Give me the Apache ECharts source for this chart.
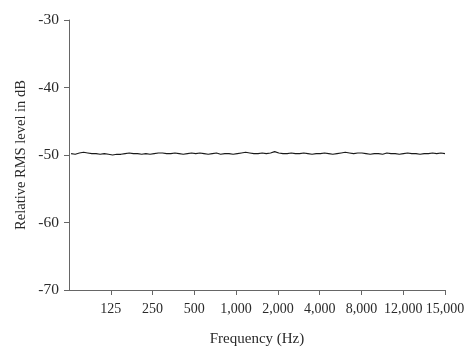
<!DOCTYPE html>
<html><head><meta charset="utf-8">
<script src="https://cdn.jsdelivr.net/npm/echarts@6/dist/echarts.min.js"></script>
<style>html,body{margin:0;padding:0;background:#fff}#c{width:474px;height:357px}</style>
</head><body><div id="c"></div>
<script>
const tickLabels = ['125','250','500','1,000','2,000','4,000','8,000','12,000','15,000'];
const yTicks = [-70,-60,-50,-40,-30];
const levels = [
-49.8,-49.9,-49.7,-49.6,-49.7,-49.8,-49.8,-49.9,-49.8,-49.9,
-50.0,-49.9,-49.9,-49.8,-49.7,-49.8,-49.8,-49.9,-49.8,-49.9,
-49.8,-49.7,-49.7,-49.8,-49.8,-49.7,-49.8,-49.9,-49.8,-49.7,
-49.8,-49.7,-49.8,-49.9,-49.8,-49.7,-49.9,-49.8,-49.8,-49.9,
-49.8,-49.7,-49.6,-49.7,-49.8,-49.8,-49.7,-49.8,-49.7,-49.5,
-49.7,-49.8,-49.8,-49.7,-49.8,-49.8,-49.7,-49.8,-49.9,-49.8,
-49.8,-49.7,-49.8,-49.9,-49.8,-49.7,-49.6,-49.7,-49.8,-49.7,
-49.7,-49.8,-49.9,-49.8,-49.8,-49.9,-49.7,-49.8,-49.8,-49.9,
-49.8,-49.7,-49.8,-49.8,-49.9,-49.8,-49.8,-49.7,-49.8,-49.7,-49.8
];
const xStart = 0.05, xEnd = 9.0;
const data = levels.map((v,i)=>[xStart + i*(xEnd-xStart)/(levels.length-1), v]);
const font = 'Liberation Serif';
const chart = echarts.init(document.getElementById('c'));
chart.setOption({
  animation:false,
  grid:{left:69,right:29,top:20,bottom:67,containLabel:false},
  xAxis:{
    type:'value',min:0,max:9,interval:1,
    name:'Frequency (Hz)',nameLocation:'middle',nameGap:42,
    nameTextStyle:{fontFamily:font,fontSize:15,color:'#2a2a2a'},
    axisLine:{lineStyle:{color:'#666',width:1}},
    axisTick:{show:true,length:5,lineStyle:{color:'#666'},customValues:[1,2,3,4,5,6,7,8,9]},
    axisLabel:{fontFamily:font,fontSize:14,color:'#2a2a2a',margin:12,
      customValues:[1,2,3,4,5,6,7,8,9],
      formatter:v=>tickLabels[Math.round(v)-1]||''},
    splitLine:{show:false}
  },
  yAxis:{
    type:'value',min:-70,max:-30,interval:10,
    name:'Relative RMS level in dB',nameLocation:'middle',nameGap:40,nameMoveOverlap:false,
    nameTextStyle:{fontFamily:font,fontSize:14.5,color:'#2a2a2a'},
    axisLine:{show:true,lineStyle:{color:'#666',width:1}},
    axisTick:{show:true,length:5,lineStyle:{color:'#666'}},
    axisLabel:{fontFamily:font,fontSize:15.5,color:'#2a2a2a',margin:10,formatter:v=>String(v)},
    splitLine:{show:false}
  },
  series:[{type:'line',data:data,showSymbol:false,symbol:'none',
    lineStyle:{color:'#1a1a1a',width:1.1}}]
});
</script></body></html>
